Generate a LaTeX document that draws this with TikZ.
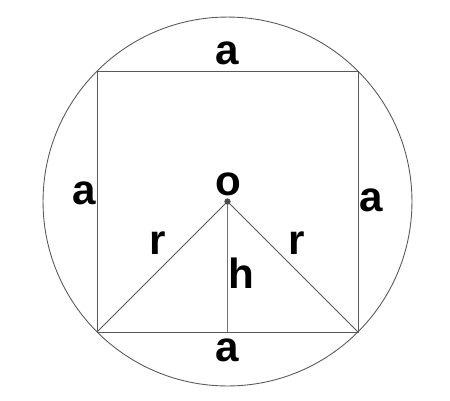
\documentclass[tikz,border=0pt]{standalone}
\usepackage{fontspec}
\setmainfont{Liberation Sans}

\begin{document}
\begin{tikzpicture}[x=0.02cm,y=-0.02cm,
    edge/.style={draw=black!65,line width=0.5pt},
    lbl/.style={inner sep=0pt,font=\bfseries\fontsize{24}{28}\selectfont}]
    \useasboundingbox (0,0) rectangle (450,400);
    \coordinate (o) at (227.5,201.5);
    \coordinate (tl) at (97,71);
    \coordinate (tr) at (358,71);
    \coordinate (br) at (358,332);
    \coordinate (bl) at (97,332);
    \coordinate (foot) at (227.5,332);
    \draw [edge] (o) circle [radius=3.69cm];
    \draw [edge] (tl) -- (tr) -- (br) -- (bl) -- cycle;
    \draw [edge] (bl) -- (o) -- (br);
    \draw [edge,draw=black!55,line width=0.8pt] (o) -- (foot);
    \fill [black!70] (o) circle [radius=1.8pt];
    % labels
    \node [lbl] (top) at (227,53) {a};
    \node [lbl] (left) at (84,193) {a};
    \node [lbl] (right) at (371,200) {a};
    \node [lbl] (bottom) at (227,350) {a};
    \node [lbl] (centre) at (228,184) {o};
    \node [lbl] (rl) at (158,243) {r};
    \node [lbl] (rr) at (297,243) {r};
    \node [lbl] (height) at (241,273) {h};
\end{tikzpicture}
\end{document}
